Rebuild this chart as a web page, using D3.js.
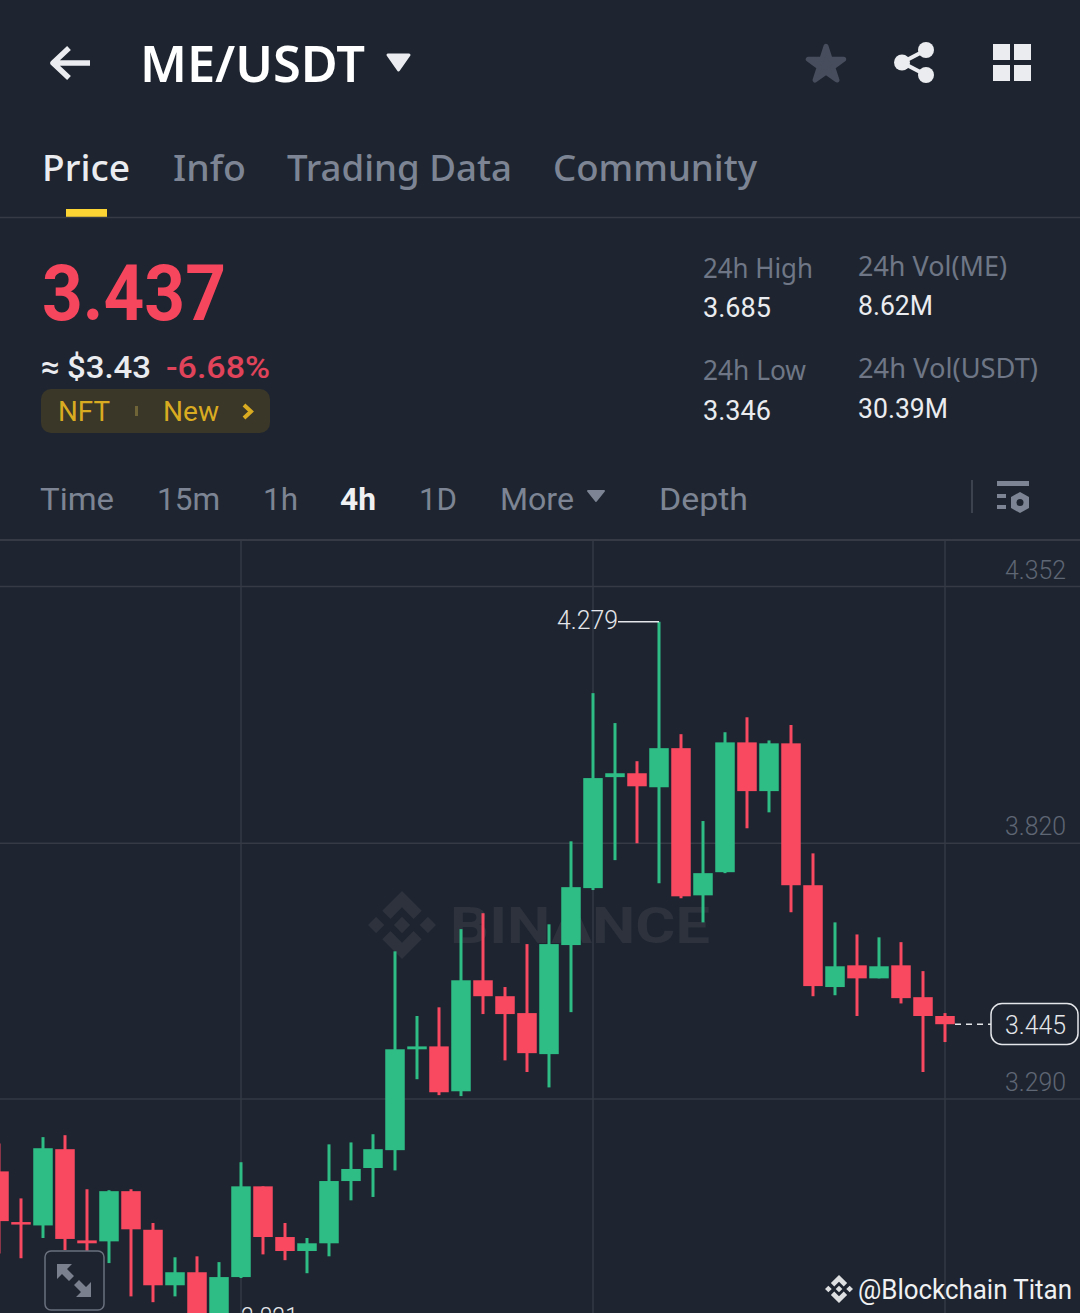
<!DOCTYPE html>
<html><head><meta charset="utf-8">
<style>html,body{margin:0;padding:0;background:#1e2530;overflow:hidden}svg{display:block}</style>
<script src="https://cdn.jsdelivr.net/npm/d3@7"></script>
</head><body><svg id="c" width="1080" height="1313"></svg>
<script>
const candleIndex = d3.range(44);
const opens  = [3.140,3.035,3.028,3.186,2.997,2.995,3.099,3.019,2.904,2.931,2.835,2.921,3.109,3.004,2.975,2.991,3.120,3.147,3.184,3.393,3.399,3.306,3.536,3.503,3.468,3.383,3.609,3.727,3.957,3.965,3.936,4.017,3.712,3.760,4.029,3.928,4.027,3.733,3.522,3.567,3.540,3.567,3.501,3.462];
const closes = [3.037,3.030,3.188,3.000,2.991,3.099,3.020,2.904,2.931,2.830,2.921,3.109,3.004,2.975,2.991,3.120,3.145,3.186,3.393,3.399,3.304,3.536,3.503,3.466,3.385,3.611,3.729,3.955,3.965,3.938,4.017,3.710,3.758,4.029,3.928,4.027,3.733,3.524,3.565,3.540,3.565,3.499,3.462,3.445];
const highs  = [3.198,3.084,3.211,3.215,3.103,3.101,3.103,3.033,2.962,2.964,2.952,3.159,3.109,3.033,3.002,3.196,3.200,3.217,3.596,3.462,3.480,3.642,3.675,3.522,3.611,3.652,3.824,4.131,4.069,3.990,4.279,4.046,3.866,4.050,4.081,4.033,4.065,3.799,3.656,3.631,3.625,3.615,3.555,3.468];
const lows   = [2.970,2.960,3.002,2.977,2.975,2.950,2.881,2.869,2.881,2.821,2.825,2.919,2.968,2.956,2.929,2.964,3.080,3.087,3.142,3.331,3.298,3.296,3.466,3.370,3.346,3.314,3.470,3.723,3.785,3.820,3.737,3.706,3.656,3.758,3.851,3.884,3.677,3.503,3.505,3.462,3.540,3.488,3.346,3.408];
const priceTicks = [4.352,3.820,3.290];
const gridCandles = [11,27,43];
const lastPrice = 3.445;
const maxPrice = 4.279, maxIndex = 30;
const minPrice = 2.821, minIndex = 10;

const UP='#2ebd85', DOWN='#f84960', BG='#1e2530', GRID='#353a45', MUTED='#7d8594', LIGHT='#eaecef', AXIS='#5f6674';
const FONT='"Noto Sans",Roboto,sans-serif', NUM='Roboto,"Noto Sans",sans-serif';
const svg=d3.select('#c');
const x=d3.scaleLinear().domain([0,43]).range([-1,945]);
const y=d3.scaleLinear().domain([3.290,4.352]).range([1099,586.5]);

function T(str,x0,x1,base,size,fill,o={}){
  return svg.append('text').text(str).attr('x',x0).attr('y',base)
   .attr('font-size',size).attr('fill',fill).attr('font-family',o.font||FONT)
   .attr('font-weight',o.weight||400).attr('textLength',x1-x0).attr('lengthAdjust','spacingAndGlyphs');
}
function logo(cx,cy,r,fill){
  const polys=[[[0,-1],[.58,-.42],[.34,-.18],[0,-.52],[-.34,-.18],[-.58,-.42]],
   [[0,1],[.58,.42],[.34,.18],[0,.52],[-.34,.18],[-.58,.42]],
   [[0,-.24],[.24,0],[0,.24],[-.24,0]],
   [[-.76,-.24],[-.52,0],[-.76,.24],[-1,0]],
   [[.76,-.24],[1,0],[.76,.24],[.52,0]]];
  svg.append('g').selectAll('polygon').data(polys).join('polygon')
   .attr('points',d=>d.map(p=>[cx+p[0]*r,cy+p[1]*r].join(',')).join(' ')).attr('fill',fill);
}

// watermark
logo(402,925,34,'#2d323d');
T('BINANCE',450,710,943,50,'#2d323d',{weight:700,font:NUM});

// grid
svg.append('g').selectAll('line').data(priceTicks).join('line')
 .attr('x1',0).attr('x2',1080).attr('y1',d=>y(d)).attr('y2',d=>y(d)).attr('stroke',GRID).attr('stroke-width',1.5);
svg.append('g').selectAll('line').data(gridCandles).join('line')
 .attr('x1',d=>x(d)).attr('x2',d=>x(d)).attr('y1',540).attr('y2',1313).attr('stroke',GRID).attr('stroke-width',1.5);

// candles
const col=i=>closes[i]>=opens[i]?UP:DOWN;
svg.append('g').selectAll('line').data(candleIndex).join('line')
 .attr('x1',i=>x(i)).attr('x2',i=>x(i)).attr('y1',i=>y(highs[i])).attr('y2',i=>y(lows[i]))
 .attr('stroke',col).attr('stroke-width',3);
svg.append('g').selectAll('rect').data(candleIndex).join('rect')
 .attr('x',i=>x(i)-9.75).attr('width',19.5)
 .attr('y',i=>y(Math.max(opens[i],closes[i])))
 .attr('height',i=>Math.max(2.5,Math.abs(y(opens[i])-y(closes[i]))))
 .attr('fill',col);

// axis labels
svg.append('g').selectAll('text').data(priceTicks).join('text')
 .text(d=>d.toFixed(3)).attr('x',1005).attr('y',d=>y(d)-8).attr('font-size',25).attr('font-family',NUM).attr('font-weight',300)
 .attr('fill',AXIS).attr('textLength',61).attr('lengthAdjust','spacingAndGlyphs');

// max label
svg.append('path').attr('d',`M618 ${y(maxPrice)}H${x(maxIndex)}`).attr('stroke','#e4e6ea').attr('stroke-width',1.5).attr('fill','none');
T(maxPrice.toFixed(3),557,618,y(maxPrice)+7.5,25,'#e4e6ea',{font:NUM,weight:300});
// min label, cut off by the frame as in the source
T(minPrice.toFixed(3),241,298,y(minPrice)+1,25,'#e4e6ea',{font:NUM,weight:300});

// last price
svg.append('line').attr('x1',955).attr('x2',991).attr('y1',y(lastPrice)).attr('y2',y(lastPrice))
 .attr('stroke','#e4e6ea').attr('stroke-width',1.5).attr('stroke-dasharray','6 5');
svg.append('rect').attr('x',991).attr('y',1003.5).attr('width',87).attr('height',41).attr('rx',11)
 .attr('fill',BG).attr('stroke','#e4e6ea').attr('stroke-width',1.5);
T(lastPrice.toFixed(3),1005,1066,1034,25,'#e4e6ea',{font:NUM,weight:300});

// header
svg.append('path').attr('d','M90 63H54M69 48L53 63L69 78').attr('fill','none').attr('stroke',LIGHT).attr('stroke-width',5.5).attr('stroke-linejoin','round');
T('ME/USDT',140,365,82,50,'#ffffff',{weight:600});
svg.append('path').attr('d','M388 55H409L398.5 70Z').attr('fill',LIGHT).attr('stroke',LIGHT).attr('stroke-width',3).attr('stroke-linejoin','round');
svg.append('path').attr('d',d3.symbol().type(d3.symbolStar).size(390)()).attr('transform','translate(826,65)')
 .attr('fill','#474d5c').attr('stroke','#474d5c').attr('stroke-width',5).attr('stroke-linejoin','round');
svg.append('path').attr('d','M926 50L902 62.5L926 75').attr('fill','none').attr('stroke',LIGHT).attr('stroke-width',4);
svg.append('g').selectAll('circle').data([[902,62.5],[926,50],[926,75]]).join('circle')
 .attr('cx',d=>d[0]).attr('cy',d=>d[1]).attr('r',8).attr('fill',LIGHT);
svg.append('g').selectAll('rect').data([[993,44],[1014,44],[993,65],[1014,65]]).join('rect')
 .attr('x',d=>d[0]).attr('y',d=>d[1]).attr('width',17).attr('height',16).attr('fill',LIGHT);

// tabs
T('Price',42,130,181,37,LIGHT,{weight:500});
T('Info',173,246,181,37,MUTED,{weight:500});
T('Trading Data',287,512,181,37,MUTED,{weight:500});
T('Community',553,757,181,37,MUTED,{weight:500});
svg.append('rect').attr('x',66).attr('y',209).attr('width',41).attr('height',8).attr('fill','#fcd535');
svg.append('line').attr('x1',0).attr('x2',1080).attr('y1',217.5).attr('y2',217.5).attr('stroke',GRID).attr('stroke-width',1.5);

// price block
T('3.437',42,226,320,78,'#f6465d',{weight:700,font:NUM});
T('≈',41,60,378,32,LIGHT,{font:NUM,weight:500});
T('$3.43',67,151,378,32,LIGHT,{font:NUM,weight:500});
T('-6.68%',166,270,378,32,'#e0435a',{font:NUM,weight:500});
svg.append('rect').attr('x',41).attr('y',389).attr('width',229).attr('height',44).attr('rx',10).attr('fill','#3a3628');
T('NFT',58,110,421,28,'#d9ab21',{font:NUM});
svg.append('rect').attr('x',135).attr('y',406).attr('width',3).attr('height',10).attr('fill','#6e6437');
T('New',163,219,421,28,'#d9ab21',{font:NUM});
svg.append('path').attr('d','M244 405L251 411.5L244 418').attr('fill','none').attr('stroke','#d9ab21').attr('stroke-width',4);

// stats
T('24h High',703,813,278,28,'#6f7786');
T('3.685',703,771,317,28,LIGHT,{font:NUM});
T('24h Vol(ME)',858,1007,276,28,'#6f7786');
T('8.62M',858,933,315,28,LIGHT,{font:NUM});
T('24h Low',703,806,380,28,'#6f7786');
T('3.346',703,771,420,28,LIGHT,{font:NUM});
T('24h Vol(USDT)',858,1038,378,28,'#6f7786');
T('30.39M',858,948,418,28,LIGHT,{font:NUM});

// interval row
T('Time',40,114,510,32,MUTED,{font:NUM});
T('15m',157,220,510,32,MUTED,{font:NUM});
T('1h',263,298,510,32,MUTED,{font:NUM});
T('4h',340,376,510,32,'#f0f1f3',{font:NUM,weight:700});
T('1D',419,457,510,32,MUTED,{font:NUM});
T('More',500,574,510,32,MUTED,{font:NUM});
svg.append('path').attr('d','M588 491H604L596 501Z').attr('fill',MUTED).attr('stroke',MUTED).attr('stroke-width',2).attr('stroke-linejoin','round');
T('Depth',659,748,510,32,MUTED,{font:NUM});
svg.append('line').attr('x1',972).attr('x2',972).attr('y1',480).attr('y2',513).attr('stroke','#3c424e').attr('stroke-width',2);
svg.append('g').attr('fill',MUTED).selectAll('rect').data([[997,481,32,5],[997,494,9,4],[997,505,9,4]]).join('rect')
 .attr('x',d=>d[0]).attr('y',d=>d[1]).attr('width',d=>d[2]).attr('height',d=>d[3]);
svg.append('path').attr('d','M1020 492L1029 497V508L1020 513L1011 508V497Z').attr('fill',MUTED);
svg.append('circle').attr('cx',1020).attr('cy',502.5).attr('r',3.5).attr('fill',BG);
svg.append('line').attr('x1',0).attr('x2',1080).attr('y1',540).attr('y2',540).attr('stroke',GRID).attr('stroke-width',2);

// expand button
svg.append('rect').attr('x',45).attr('y',1251).attr('width',59).attr('height',59).attr('rx',6).attr('fill',BG).attr('stroke','#6a707d').attr('stroke-width',1.5);
svg.append('path').attr('d','M57 1264H72L67 1269L74 1276L69 1281L62 1274L57 1279Z M91 1297H76L81 1292L74 1285L79 1280L86 1287L91 1282Z').attr('fill','#7a808d');

// credit
logo(839,1289,14,'#dedfe1');
T('@Blockchain Titan',858,1072,1299,27,'#f0f1f2',{font:NUM});
</script></body></html>
